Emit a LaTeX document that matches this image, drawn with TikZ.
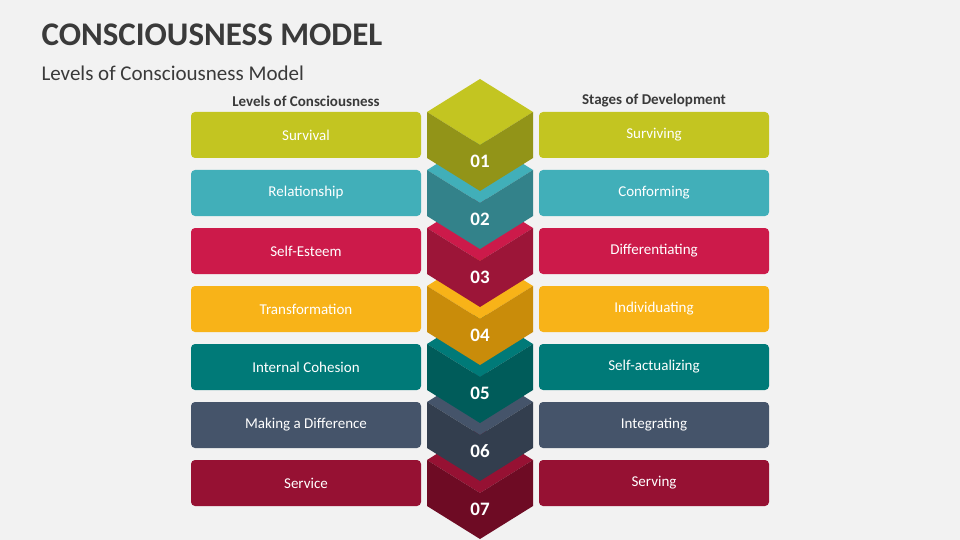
\documentclass[tikz,border=0pt]{standalone}
\usepackage{fontspec}
\setmainfont{Carlito}
\definecolor{bg}{HTML}{F2F2F2}
\definecolor{La}{HTML}{C3C521}\definecolor{Da}{HTML}{929418}
\definecolor{Lb}{HTML}{41AFB9}\definecolor{Db}{HTML}{33828A}
\definecolor{Lc}{HTML}{CC1A4A}\definecolor{Dc}{HTML}{9C1538}
\definecolor{Ld}{HTML}{F8B318}\definecolor{Dd}{HTML}{C98C0A}
\definecolor{Le}{HTML}{007A78}\definecolor{De}{HTML}{005C5A}
\definecolor{Lf}{HTML}{45546A}\definecolor{Df}{HTML}{333E4E}
\definecolor{Lg}{HTML}{961133}\definecolor{Dg}{HTML}{6E0B24}
\definecolor{ttl}{HTML}{3A3A3A}
\tikzset{bar/.style={rounded corners=4pt,minimum width=230pt,minimum height=46pt,inner sep=0pt,text=white,font=\fontsize{15}{17}\selectfont},
num/.style={text=white,font=\bfseries\fontsize{19}{21}\selectfont},
hdr/.style={text=ttl,font=\bfseries\fontsize{15}{17}\selectfont}}
\begin{document}
\begin{tikzpicture}[x=1pt,y=-1pt]
\fill[bg] (0,0) rectangle (960,540);
\useasboundingbox (0,0) rectangle (960,540);
\node[anchor=west,text=ttl,font=\bfseries\fontsize{33}{36}\selectfont] (title) at (38,35) {CONSCIOUSNESS MODEL};
\node[anchor=west,text=ttl,font=\fontsize{21}{24}\selectfont] (sub) at (38,73) {Levels of Consciousness Model};
\node[hdr] (hl) at (306,101) {Levels of Consciousness};
\node[hdr] (hr) at (654,101) {Stages of Development};
\foreach \k/\c/\l/\r in {0/a/Survival/Surviving,1/b/Relationship/Conforming,2/c/Self-Esteem/Differentiating,3/d/Transformation/Individuating,4/e/Internal Cohesion/Self-actualizing,5/f/Making a Difference/Integrating,6/g/Service/Serving}{
  \node[bar,fill=L\c] (l\k) at (306,135+58*\k) {\l};
  \node[bar,fill=L\c] (r\k) at (654,135+58*\k) {\r};
}
\foreach \k/\c in {6/g,5/f,4/e,3/d,2/c,1/b,0/a}{
  \begin{scope}[yshift=-58*\k]
  \fill[L\c] (480,79) -- (533,112) -- (480,145) -- (427,112) -- cycle;
  \fill[D\c] (427,112) -- (480,145) -- (533,112) -- (533,158) -- (480,191) -- (427,158) -- cycle;
  \node[num] (n\k) at (480,161) {0\the\numexpr\k+1\relax};
  \end{scope}
}
\end{tikzpicture}
\end{document}
